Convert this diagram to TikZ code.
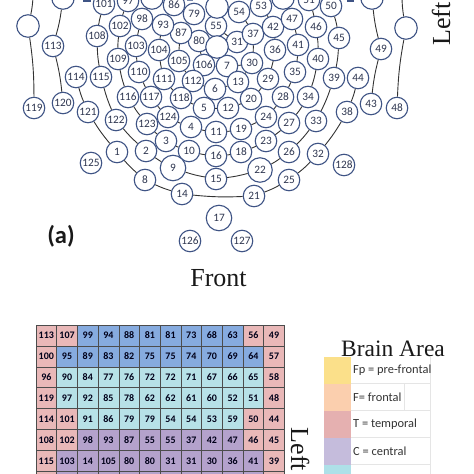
\documentclass[tikz,border=0pt]{standalone}
\usepackage{fontspec}
\setmainfont{Carlito}
\newfontfamily\timesfont{Liberation Serif}
\definecolor{cr}{HTML}{E9B8B8}
\definecolor{cb}{HTML}{86ABDF}
\definecolor{cc}{HTML}{B7E1E7}
\definecolor{cp}{HTML}{B4A2CC}
\definecolor{ly}{HTML}{FBE08A}
\definecolor{lo}{HTML}{FBCFAE}
\definecolor{lr}{HTML}{E5B0B0}
\definecolor{lp}{HTML}{C5BCDC}
\definecolor{lc}{HTML}{AEE0E8}
\definecolor{ering}{HTML}{3F5485}
\definecolor{etext}{HTML}{2E3650}
\tikzset{
  electrode/.style={circle,draw=ering,line width=1.1pt,fill=white,minimum size=21.5pt,inner sep=0pt,text=etext,font=\fontsize{11.3}{12}\selectfont},
  bigelectrode/.style={electrode,minimum size=25.5pt},
  blankelectrode/.style={electrode,minimum size=22.5pt},
  ringline/.style={draw=black!80,line width=0.9pt},
  gridcell/.style={draw=black!70,line width=0.6pt,minimum width=20.7pt,minimum height=20.9pt,inner sep=0pt,text=black!90!blue,font=\bfseries\fontsize{10}{10}\selectfont},
  serifcap/.style={font=\timesfont\fontsize{26}{26}\selectfont,text=black!90,inner sep=0pt},
  legendswatch/.style={draw=none,minimum width=27pt,minimum height=27pt,inner sep=0pt},
  legendtext/.style={anchor=west,inner sep=0pt,text=black!80,font=\fontsize{12.4}{13}\selectfont},
  legendrule/.style={draw=black!10,line width=0.6pt},
}
\begin{document}
\begin{tikzpicture}[x=1pt,y=-1pt]
\useasboundingbox (0,0) rectangle (474,474);
\clip (0,0) rectangle (474,474);
% free ends of the outer rings
\coordinate (topA) at (33,-3);
\coordinate (topB) at (402,-3);
% electrodes
\foreach \l/\x/\y in {
1/117/152,2/146/151,3/166/141,4/191/127,5/204/108,6/215/89,7/227/66,8/145/180,10/189/151,
11/216/132,12/228/108,13/238/82,14/182/194,15/216/179,16/216/156,18/241/152,19/241/129,20/251/99,21/254/196,
23/266/141,24/266/117,25/289/180,26/289/152,27/289/123,28/283/97,29/268/79,30/252/63,31/237/42,32/318/154,33/316/121,
34/308/97,35/295/72,36/275/50,37/253/34,38/347/112,39/334/78,40/318/59,41/298/45,42/273/27,43/371/104,44/358/78,
45/339/38,46/316/27,47/292/19,48/397/108,49/381/49,50/331/6,51/309/0,53/261/6,54/239/12,55/216/26,
79/194/14,80/199/41,86/174/5,87/181/33,93/163/25,97/128/1,98/142/19,101/104/4,102/120/26,103/136/46,104/159/50,
105/179/61,106/204/65,108/97/36,109/118/59,110/139/72,111/164/79,112/193/81,113/53/46,114/76/77,115/101/77,
116/128/97,117/151/97,118/181/98,119/34/108,120/63/103,121/88/112,122/116/120,123/147/124,124/168/117,
125/91/163,126/190/241,127/242/241,128/344/165}
  \node[electrode] (e\l) at (\x,\y) {\l};
\node[bigelectrode] (e9) at (173,168) {9};
\node[bigelectrode] (e17) at (219,218) {17};
\node[electrode,minimum size=24.5pt] (e22) at (260,170) {22};
\foreach \n/\x/\y in {bL/28/26,bR/406/28,bLt/63/-2,bRt/372/-2,bA/152/-2,bB/217/7,bC/217/47,bD/283/-2}
  \node[blankelectrode] (\n) at (\x,\y) {};
% rings, ending on the node borders
\foreach \a/\b in {
e119/bL,bL/topA,e120/e113,e113/bLt,
e114/e121,e121/e1,e1/e8,e8/e14,e14/e21,e21/e25,e25/e32,e32/e38,e38/e44,
e101/e108,e108/e115,e115/e122,e122/e2,e2/e9,e9/e15,e15/e22,e22/e26,e26/e33,e33/e39,e39/e45,e45/e50,
e97/e102,e102/e109,e109/e116,e116/e123,e123/e3,e3/e10,e10/e16,e16/e18,e18/e23,e23/e27,e27/e34,e34/e40,e40/e46,e46/e51,
bA/e98,e98/e103,e103/e110,e110/e117,e117/e124,e124/e4,e4/e11,e11/e19,e19/e24,e24/e28,e28/e35,e35/e41,e41/e47,e47/bD,
e86/e93,e93/e104,e104/e111,e111/e118,e118/e5,e5/e12,e12/e20,e20/e29,e29/e36,e36/e42,e42/e53,
e79/e87,e87/e105,e105/e112,e112/e6,e6/e13,e13/e30,e30/e37,e37/e54,
e80/e106,e106/e7,e7/e30,e55/e80,e55/e31}
  \draw[ringline] (\a) to[bend right=4] (\b);
\foreach \a/\b in {bR/e48,topB/bR,e49/e43,bRt/e49}
  \draw[ringline] (\a) to[bend right=4] (\b);
% cut-off marks at the top edge
\fill[ering] (83,0) rectangle (91,2);
\fill[ering] (347,0) rectangle (354,2);
\fill[ering!70] (187,0) rectangle (193,1);
% captions
\node[font=\bfseries\fontsize{24.5}{25}\selectfont,text=black!90,inner sep=0pt] (captionA) at (61,236) {(a)};
\node[serifcap,anchor=base] (front) at (218.5,286) {Front};
\node[serifcap,anchor=base,rotate=90] (leftA) at (450,24) {Left};
% colour grid
\foreach \rownum/\cells in {
1/{113/cr,107/cr,99/cb,94/cb,88/cb,81/cb,81/cb,73/cb,68/cb,63/cb,56/cr,49/cr},
2/{100/cr,95/cb,89/cb,83/cb,82/cb,75/cb,75/cb,74/cb,70/cb,69/cb,64/cb,57/cr},
3/{96/cr,90/cc,84/cc,77/cc,76/cc,72/cc,72/cc,71/cc,67/cc,66/cc,65/cc,58/cr},
4/{119/cr,97/cc,92/cc,85/cc,78/cc,62/cc,62/cc,61/cc,60/cc,52/cc,51/cc,48/cr},
5/{114/cr,101/cr,91/cc,86/cc,79/cc,79/cc,54/cc,54/cc,53/cc,59/cc,50/cr,44/cr},
6/{108/cr,102/cr,98/cp,93/cp,87/cp,55/cp,55/cp,37/cp,42/cp,47/cp,46/cr,45/cr},
7/{115/cr,103/cp,14/cp,105/cp,80/cp,80/cp,31/cp,31/cp,30/cp,36/cp,41/cp,39/cr},
8/{{}/cr,{}/cp,{}/cp,{}/cp,{}/cp,{}/cp,{}/cp,{}/cp,{}/cp,{}/cp,{}/cp,{}/cr}}
  \foreach \val/\col [count=\c] in \cells
    \node[gridcell,fill=\col] (g\rownum-\c) at ({36+20.7*(\c-0.5)},{325+20.9*(\rownum-0.5)}) {\val};
% legend
\node[legendswatch,fill=ly] (s1) at (337.5,370) {};
\node[legendswatch,fill=lo] (s2) at (337.5,397) {};
\node[legendswatch,fill=lr] (s3) at (337.5,424) {};
\node[legendswatch,fill=lp] (s4) at (337.5,451) {};
\node[legendswatch,fill=lc] (s5) at (337.5,478) {};
\draw[legendrule] (351,383.5) -- (430,383.5);
\draw[legendrule] (351,410.5) -- (430,410.5);
\draw[legendrule] (351,437.5) -- (430,437.5);
\draw[legendrule] (351,464.5) -- (430,464.5);
\draw[legendrule] (404,383.5) -- (404,410.5);
\draw[legendrule] (430,357) -- (430,474);
\node[legendtext] (t1) at (353,370) {Fp = pre-frontal};
\node[legendtext] (t2) at (353,397) {F= frontal};
\node[legendtext] (t3) at (353,424) {T = temporal};
\node[legendtext] (t4) at (353,451.5) {C = central};
\node[serifcap,anchor=base,font=\timesfont\fontsize{23.5}{24}\selectfont] (brain) at (393,356.5) {Brain Area};
\node[serifcap,anchor=base,rotate=-90] (leftB) at (291,449.5) {Left};
\end{tikzpicture}
\end{document}
